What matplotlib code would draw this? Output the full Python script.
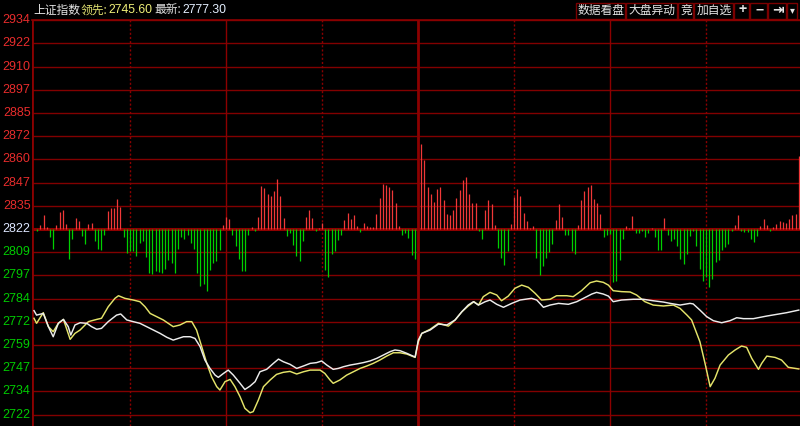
import matplotlib
matplotlib.use("Agg")
import matplotlib.pyplot as plt
import matplotlib.transforms as mtransforms
from matplotlib.patches import Rectangle

plt.rcParams['font.family'] = ['Noto Sans CJK SC', 'DejaVu Sans']

# ---- data ----
base_price = 2822.3
price_step = 12.45
tick_labels = ['2722', '2734', '2747', '2759', '2772', '2784', '2797', '2809', '2822',
               '2835', '2847', '2860', '2872', '2885', '2897', '2910', '2922', '2934']

# buy/sell strength bars, one per minute (offset from the 2822 line, index points)
bar_values = [
    0, -1.3, 2.3, 7.3, 1.3, -4.5, -10.6, 2.3, 9.3, 10.4,
    2.9, -15.9, -5.5, 5.9, 4.5, -3.9, -8.1, 2.9, 3.4, -6.6,
    -10.6, -11.5, -3.0, 9.8, 11.5, 11.3, 16.3, 12.0, -4.5, -13.1,
    -11.6, -11.6, -14.5, -7.7, -6.6, -15.2, -23.4, -24.2, -22.7, -23.1,
    -23.4, -21.3, -16.5, -18.4, -23.4, -10.6, -4.1, -5.5, -3.4, -7.5,
    -10.6, -23.4, -30.4, -29.4, -33.5, -22.0, -18.4, -17.0, -11.1, 2.3,
    6.3, 5.2, -3.4, -9.0, -15.9, -22.7, -22.7, -3.0, 1.3, -1.3,
    6.6, 23.3, 22.0, 18.8, 17.9, 20.2, 27.0, 17.9, 5.9, -3.9,
    -2.1, -8.8, -14.7, -17.0, -6.3, 6.3, 10.4, 5.9, -1.1, 0.5,
    3.4, -21.8, -26.0, -13.4, -12.0, -6.1, -3.4, 4.8, 8.8, 5.4,
    7.7, 1.6, -1.6, 3.4, 1.8, 0.9, 1.3, 8.2, 16.8, 24.2,
    23.8, 22.7, 21.1, 13.8, 1.8, -3.4, -2.0, -5.0, -13.8, -15.9,
    0, 45.6, 37.2, 22.7, 18.8, 14.7, 21.7, 22.7, 15.8, 8.2,
    7.3, 10.4, 16.8, 20.8, 26.1, 28.1, 18.8, 14.1, 14.1, -0.9,
    -5.5, 10.2, 15.8, 13.6, 2.3, -10.0, -15.6, -19.5, -12.0, 2.9,
    17.4, 21.3, 17.9, 8.8, 4.3, 0.7, 1.8, -15.6, -24.9, -20.0,
    -15.6, -12.5, -8.1, 4.8, 13.2, 6.3, -3.4, -3.0, -12.0, -13.4,
    2.3, 15.8, 20.2, 22.7, 23.8, 16.3, 14.1, 8.2, -4.5, -3.4,
    -2.7, -28.6, -28.1, -16.5, -5.5, 1.8, 0.7, 6.8, -2.3, -2.3,
    -1.3, -4.5, -2.3, 0.7, -4.5, -11.5, -11.1, 5.9, -3.0, -6.6,
    -5.5, -9.0, -15.9, -19.0, -13.4, -3.9, -1.3, -9.0, -21.5, -28.1,
    -26.0, -31.0, -26.9, -17.9, -16.5, -11.1, -9.5, -8.1, -0.9, 2.3,
    7.7, -1.3, -1.6, -1.6, -5.5, -7.0, -3.9, 1.8, 5.2, 2.3,
    -0.9, 1.3, 2.9, 4.3, 3.8, 3.4, 5.4, 7.3, 8.2, 39.2,
]

# index line (white)
white_min = [0, 0.8, 2.9, 4.5, 6.0, 7.6, 9.2, 10.7, 11.5, 12.8, 14.4, 16.5, 18.0, 19.6,
             21.1, 23.2, 25.8, 27.1, 29.0, 31.0, 33.1, 35.2, 37.3, 39.4, 41.5, 43.5,
             45.1, 46.7, 48.8, 50.3, 51.9, 53.4, 55.0, 56.6, 57.6, 59.2, 60.7, 62.3,
             64.4, 65.9, 67.5, 69.1, 70.6, 72.7, 74.8, 76.4, 77.9, 80.0, 82.1, 84.2,
             86.3, 88.3, 89.9, 91.5, 93.5, 95.1, 96.7, 98.8, 100.8, 102.9, 105.0,
             107.1, 109.2, 111.3, 112.8, 114.4, 116.5, 119.1, 120.1, 121.2, 123.8,
             126.4, 129.0, 131.6, 133.7, 135.7, 137.3, 138.9, 141.0, 142.5, 144.6,
             146.7, 149.3, 151.9, 155.5, 157.1, 159.2, 161.3, 163.9, 167.0, 169.6,
             171.7, 174.3, 175.8, 177.9, 179.5, 181.0, 183.6, 187.3, 190.4, 193.5,
             196.7, 198.8, 201.9, 205.0, 206.0, 208.1, 210.2, 212.3, 214.9, 217.5,
             219.6, 221.7, 224.8, 226.9, 229.0, 232.1, 235.2, 239.0]
white_val = [2778.5, 2776.1, 2777.0, 2769.9, 2764.5, 2771.7, 2773.8, 2769.9, 2765.4,
             2770.8, 2772.0, 2771.7, 2769.9, 2768.5, 2769.0, 2772.6, 2776.1, 2776.7,
             2773.5, 2772.6, 2771.7, 2769.9, 2768.1, 2766.3, 2764.2, 2762.7, 2763.6,
             2764.5, 2764.5, 2763.6, 2759.2, 2752.0, 2747.5, 2743.9, 2742.7, 2744.8,
             2746.6, 2743.9, 2739.5, 2736.2, 2738.0, 2740.4, 2745.7, 2747.0, 2750.2,
             2752.5, 2751.1, 2749.7, 2747.5, 2748.8, 2750.2, 2750.6, 2751.5, 2749.3,
             2747.0, 2747.5, 2748.4, 2749.3, 2749.9, 2750.6, 2751.5, 2752.9, 2754.7,
             2756.5, 2757.4, 2757.0, 2755.6, 2753.6, 2762.7, 2766.3, 2768.1, 2771.3,
             2770.8, 2773.5, 2777.9, 2781.5, 2783.3, 2781.5, 2783.3, 2784.2, 2781.9,
             2780.3, 2782.4, 2784.2, 2785.1, 2784.2, 2780.3, 2781.5, 2782.4, 2781.9,
             2783.3, 2785.1, 2787.4, 2788.3, 2787.4, 2786.3, 2783.3, 2784.2, 2784.6,
             2784.6, 2783.8, 2783.1, 2782.4, 2781.5, 2782.4, 2782.1, 2778.8, 2775.3,
             2773.1, 2772.0, 2773.1, 2774.7, 2774.2, 2774.2, 2774.9, 2775.6, 2776.5,
             2777.4, 2778.8]

# leading indicator (yellow)
yellow_min = [0, 0.8, 2.9, 4.5, 6.0, 7.6, 9.2, 11.3, 12.8, 14.4, 17.0, 19.6, 21.1, 23.2,
              25.3, 26.4, 28.4, 31.0, 33.1, 34.7, 36.3, 38.3, 40.4, 43.5, 45.6, 47.7,
              49.3, 50.8, 52.4, 54.0, 55.5, 57.1, 58.1, 59.7, 61.3, 62.8, 64.4, 65.9,
              67.5, 68.5, 70.1, 71.7, 73.8, 75.8, 77.9, 80.0, 82.1, 84.2, 86.3, 89.4,
              90.9, 92.5, 93.5, 95.6, 97.7, 99.8, 101.9, 104.0, 106.0, 108.1, 110.2,
              112.3, 114.4, 116.5, 119.1, 120.1, 121.2, 123.8, 126.4, 129.5, 131.6,
              133.7, 135.7, 137.5, 138.9, 140.4, 142.5, 144.6, 146.1, 148.2, 150.3,
              152.4, 154.5, 156.6, 158.6, 161.3, 163.3, 166.5, 168.5, 171.1, 173.8,
              175.8, 177.9, 179.5, 181.0, 183.6, 186.3, 188.3, 190.9, 193.5, 196.7,
              199.8, 201.9, 204.0, 205.5, 206.9, 208.1, 209.7, 211.3, 212.8, 214.4,
              217.0, 219.1, 221.1, 222.7, 224.3, 226.4, 227.4, 229.0, 231.6, 233.6,
              235.7, 239.0]
yellow_val = [2774.4, 2771.7, 2777.4, 2769.9, 2767.2, 2771.7, 2773.8, 2763.1, 2766.3,
              2768.1, 2772.6, 2773.8, 2774.4, 2780.6, 2785.1, 2786.5, 2785.1, 2784.2,
              2783.3, 2780.6, 2777.0, 2775.3, 2773.5, 2769.9, 2770.8, 2772.6, 2772.6,
              2768.1, 2759.2, 2750.2, 2743.0, 2737.7, 2735.9, 2740.4, 2741.6, 2737.7,
              2732.3, 2726.1, 2723.7, 2724.3, 2730.5, 2737.7, 2741.3, 2744.3, 2745.4,
              2745.9, 2744.5, 2745.7, 2746.6, 2746.6, 2744.8, 2741.3, 2739.5, 2741.3,
              2743.9, 2745.7, 2747.5, 2748.8, 2750.2, 2752.0, 2754.1, 2755.9, 2755.9,
              2755.2, 2753.4, 2761.8, 2766.3, 2768.5, 2771.7, 2770.2, 2773.5, 2777.9,
              2781.0, 2783.3, 2781.5, 2786.0, 2788.3, 2786.9, 2783.8, 2786.3, 2790.5,
              2792.2, 2791.0, 2787.8, 2784.2, 2784.6, 2786.5, 2786.5, 2786.0, 2789.2,
              2793.5, 2794.4, 2793.7, 2792.2, 2789.2, 2788.7, 2788.5, 2786.9, 2783.3,
              2781.5, 2781.0, 2781.5, 2779.7, 2776.2, 2773.5, 2767.2, 2761.8, 2750.2,
              2737.7, 2742.2, 2749.3, 2754.7, 2757.4, 2759.5, 2758.8, 2752.9, 2747.0,
              2750.2, 2754.1, 2753.4, 2752.0, 2748.1, 2747.2]

# ---- figure ----
W, H = 800, 426
fig = plt.figure(figsize=(W / 100, H / 100), dpi=100, facecolor='black')
ax = fig.add_axes([32 / W, 0, 768 / W, 406 / H], facecolor='black')
ax.set_xlim(-0.625, 239.375)
ax.set_ylim(2716.6, 2934.45)
ax.set_xticks([])
ax.set_yticks([])
for s in ax.spines.values():
    s.set_visible(False)

grid_red = '#820000'
ticks = [base_price + (k - 8) * price_step for k in range(len(tick_labels))]
for k, t in enumerate(ticks):
    if tick_labels[k] == '2822':
        ax.axhline(t, color='#900000', lw=2.2, zorder=2)
    else:
        ax.axhline(t, color=grid_red, lw=1.0, zorder=1)

# vertical time lines (every 30 minutes)
for m in [30, 90, 150, 210]:
    ax.axvline(m, color='#8c0000', lw=1.0, ls=(0, (1.5, 1.5)), zorder=1)
for m in [60, 180]:
    ax.axvline(m, color='#8c0000', lw=1.0, zorder=1)
ax.axvline(120, color='#8c0000', lw=2.0, zorder=1)
ax.axvline(-0.625, color='#8c0000', lw=2.0, zorder=3)

# strength bars
mins = list(range(len(bar_values)))
up_x = [m for m, v in zip(mins, bar_values) if v > 0]
up_v = [v for v in bar_values if v > 0]
dn_x = [m for m, v in zip(mins, bar_values) if v < 0]
dn_v = [v for v in bar_values if v < 0]
ax.vlines(up_x, base_price, [base_price + v for v in up_v], color='#f03838', lw=0.9, zorder=2)
ax.vlines(dn_x, base_price, [base_price + v for v in dn_v], color='#00d000', lw=0.9, zorder=2)

# lines
ax.plot(yellow_min, yellow_val, color='#e4e46a', lw=1.05, zorder=4)
ax.plot(white_min, white_val, color='#ececec', lw=1.05, zorder=5)

# y labels
trans = mtransforms.blended_transform_factory(fig.transFigure, ax.transData)
for k, t in enumerate(ticks):
    lab = tick_labels[k]
    if lab == '2822':
        c = '#dde6ff'
    elif k > 8:
        c = '#e82c2c'
    else:
        c = '#00cc00'
    ax.text(30.5 / W, t, lab, transform=trans, ha='right', va='center',
            fontsize=9, color=c, family=['Liberation Sans', 'DejaVu Sans'], clip_on=False)

# top border
fig.add_artist(plt.Line2D([32 / W, 1], [1 - 20 / H, 1 - 20 / H], color='#8c0000', lw=1.2))

# header text
hy = 1 - 10 / H
fig.text(33 / W, hy, '上证指数', color='#e6e6e6', fontsize=8.5, va='center')
fig.text(81 / W, hy, '领先:', color='#e0e070', fontsize=8.5, va='center')
fig.text(108 / W, hy, '2745.60', color='#f0f078', fontsize=8.8, va='center',
         family=['Liberation Sans', 'DejaVu Sans'])
fig.text(154 / W, hy, '最新:', color='#e0e0e0', fontsize=8.5, va='center')
fig.text(182 / W, hy, '2777.30', color='#e4efff', fontsize=8.8, va='center',
         family=['Liberation Sans', 'DejaVu Sans'])

# buttons top right
btn_edges = [575.7, 625.7, 677.7, 694.3, 734.3, 750, 768.3, 786.7, 798.3]
btn_text = ['数据看盘', '大盘异动', '竞', '加自选', '+', '−', '⇥', '▾']
for i, label in enumerate(btn_text):
    x0, x1 = btn_edges[i], btn_edges[i + 1]
    fig.add_artist(Rectangle((x0 / W, 1 - 18.5 / H), (x1 - x0 - 1) / W, 16 / H,
                             transform=fig.transFigure, fill=False,
                             edgecolor='#7a0000', lw=1.0))
    fs = 8.5
    weight = 'normal'
    if label in ['+', '−', '⇥']:
        fs, weight = 10, 'bold'
    if label == '▾':
        fs = 7
    fig.text((x0 + x1) / 2 / W, 1 - 10.5 / H, label, color='#e6e6e6', fontsize=fs,
             ha='center', va='center', weight=weight)

fig.savefig('out.png', dpi=100, facecolor='black')
plt.close()
